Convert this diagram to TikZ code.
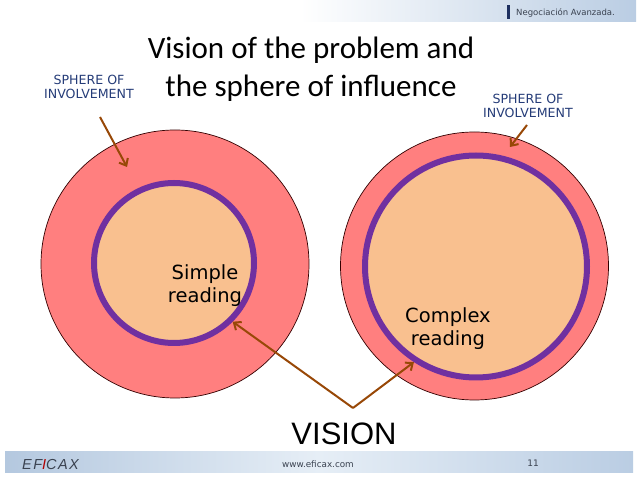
\documentclass[tikz,border=0pt]{standalone}
\usepackage{fontspec}
\setmainfont{DejaVu Sans}
\newfontfamily\titlefont{Carlito}
\newfontfamily\arialfont{Liberation Sans}
\usetikzlibrary{arrows.meta}
\definecolor{ringred}{HTML}{FF7F7F}
\definecolor{peach}{HTML}{F9C08F}
\definecolor{ringpurple}{HTML}{7030A0}
\definecolor{arrowbrown}{HTML}{984807}
\definecolor{labelblue}{HTML}{253C78}
\definecolor{barblue}{HTML}{BACDE3}
\definecolor{barleft}{HTML}{B4C8DF}
\definecolor{barlight}{HTML}{E6EEF6}
\definecolor{footgray}{HTML}{3A4250}
\tikzset{
  outerring/.style={circle, draw=black!80!red, line width=0.7pt, fill=ringred, inner sep=0pt},
  innerring/.style={circle, draw=ringpurple, line width=6pt, fill=peach, inner sep=0pt},
  pointer/.style={draw=arrowbrown, line width=2pt, -{Straight Barb[length=6pt,width=10pt,line width=2pt]}},
  sphlabel/.style={align=center, text=labelblue, font=\fontsize{12.6}{13.8}\selectfont},
  readlabel/.style={align=center, text=black, font=\fontsize{19.5}{23}\selectfont},
}
\begin{document}
\begin{tikzpicture}[x=1pt, y=-1pt]
\useasboundingbox (0,0) rectangle (638,478);
% header bar
\fill[left color=white, right color=barblue] (300,0) rectangle (636,22);
\fill[fill=labelblue!80!black] (507,5) rectangle (509.5,19);
\node[anchor=west, text=footgray, font=\fontsize{8.5}{10}\selectfont, inner sep=0pt] (hdr) at (516,13) {Negociación Avanzada.};
% footer bar
\shade[left color=barleft, right color=barblue, middle color=barlight] (5,452) rectangle (633,473);
\node[anchor=west, text=footgray, font=\arialfont\itshape\fontsize{14.5}{16}\selectfont\addfontfeature{LetterSpace=10}, inner sep=0pt] (logo) at (22,465) {EF\textcolor{red!70!black}{I}CAX};
\node[text=footgray, font=\fontsize{8.8}{10}\selectfont, inner sep=0pt] (url) at (318,464) {www.eficax.com};
\node[text=footgray, font=\fontsize{9}{10}\selectfont, inner sep=0pt] (pnum) at (533,463) {11};
% title
\node[align=center, font=\titlefont\fontsize{31}{38}\selectfont] (title) at (311,69) {Vision of the problem and\\the sphere of influence};
% circles
\node[outerring, minimum size=268pt] (out1) at (175,264) {};
\node[innerring, minimum size=160pt] (in1) at (174,263) {};
\node[outerring, minimum size=268pt] (out2) at (474.5,266) {};
\node[innerring, minimum size=222pt] (in2) at (476,266.5) {};
% labels
\node[sphlabel] (lab1) at (89,87) {SPHERE OF\\INVOLVEMENT};
\node[sphlabel] (lab2) at (528,106) {SPHERE OF\\INVOLVEMENT};
\node[readlabel] (simple) at (205,286) {Simple\\reading};
\node[readlabel] (complex) at (448,329) {Complex\\reading};
\node[font=\arialfont\fontsize{31}{36}\selectfont] (vision) at (344,434) {VISION};
% arrows
\coordinate (a1s) at (100,117);
\coordinate (a1e) at (127,167);
\coordinate (a2s) at (527,125);
\coordinate (a2e) at (510,147);
\coordinate (v) at (353,408);
\draw[pointer] (a1s) -- (a1e);
\draw[pointer] (a2s) -- (a2e);
\draw[pointer] (v) -- (in1.-45);
\draw[pointer] (v) -- (in2.237);
\end{tikzpicture}
\end{document}
